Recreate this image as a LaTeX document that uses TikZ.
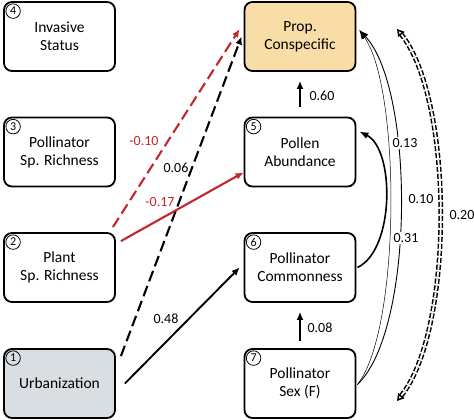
\documentclass[tikz,border=0pt]{standalone}
\usepackage{fontspec}
\setmainfont{Carlito}
\usetikzlibrary{arrows.meta,calc}
\definecolor{myred}{HTML}{C1272D}
\definecolor{propfill}{HTML}{F9DDA6}
\definecolor{urbfill}{HTML}{D9DEE3}
\tikzset{
  box/.style={draw, line width=1.8pt, rounded corners=8pt, minimum width=111pt, minimum height=69pt, align=center, font=\fontsize{15.5}{18}\selectfont, inner sep=0pt},
  num/.style={draw, circle, line width=0.8pt, minimum size=14.5pt, inner sep=0pt, font=\fontsize{12}{12}\selectfont},
  lbl/.style={font=\fontsize{14}{16}\selectfont, inner sep=1pt},
  arr/.style={-{Latex[length=8pt,width=7pt]}, line width=2.1pt},
  dsh/.style={dash pattern=on 11pt off 5pt},
  thinarr/.style={-{Latex[length=9pt,width=7pt]}},
}
\begin{document}
\begin{tikzpicture}[x=1pt,y=-1pt]
\useasboundingbox (0,0) rectangle (474,420);
% boxes
\node[box] (b4) at (59.5,36.5) {Invasive\\Status};
\node[box] (b3) at (59.5,152) {Pollinator\\Sp. Richness};
\node[box] (b2) at (59.5,267.5) {Plant\\Sp. Richness};
\node[box, fill=urbfill] (b1) at (59.5,383.5) {Urbanization};
\node[box, fill=propfill] (pc) at (300,36.5) {Prop.\\Conspecific};
\node[box] (b5) at (300,152) {Pollen\\Abundance};
\node[box] (b6) at (300,267.5) {Pollinator\\Commonness};
\node[box] (b7) at (300,383.5) {Pollinator\\Sex (F)};
% numbers
\node[num] (n4) at ($(b4.north west)+(10,10)$) {4};
\node[num] (n3) at ($(b3.north west)+(10,10)$) {3};
\node[num] (n2) at ($(b2.north west)+(10,10)$) {2};
\node[num] (n1) at ($(b1.north west)+(10,10)$) {1};
\node[num] (n5) at ($(b5.north west)+(10,10)$) {5};
\node[num] (n6) at ($(b6.north west)+(10,10)$) {6};
\node[num] (n7) at ($(b7.north west)+(10,10)$) {7};
% straight arrows
\draw[arr, dsh, myred] ([shift={(-3,-5)}]b2.north east) -- ([shift={(-4,28)}]pc.north west);
\draw[arr, dsh] ([shift={(5,8)}]b1.north east) -- ([shift={(-2,0)}]pc.west);
\draw[arr, myred] ([shift={(5,9)}]b2.north east) -- ([shift={(0,-15)}]b5.south west);
\draw[arr, line width=1.9pt] ([shift={(9,0)}]b1.east) -- ([shift={(-4,0)}]b6.west);
\draw[arr, line width=2.8pt] ([shift={(0,-9.5)}]b5.north) -- ([shift={(0,9)}]pc.south);
\draw[arr, line width=2.4pt] ([shift={(0,-7)}]b7.north) -- ([shift={(0,9)}]b6.south);
% straight labels
\node[lbl, text=myred] (l10) at (144,141) {-0.10};
\node[lbl] (l06) at (176,168) {0.06};
\node[lbl, text=myred] (l17) at (160,202) {-0.17};
\node[lbl] (l48) at (166,319) {0.48};
\node[lbl] (l60) at (322,96) {0.60};
\node[lbl] (l08) at (320,328) {0.08};
% curved arrows
\draw[thinarr, line width=1.6pt] ([shift={(1,0)}]b6.east) .. controls +(37.5,-17.5) and +(35.5,17.5) .. ([shift={(3,15)}]b5.north east);
\draw[thinarr, line width=0.5pt] ([shift={(1,1)}]b7.east) .. controls +(43.5,-54.5) and +(41.5,59) .. ([shift={(3,29)}]pc.north east);
\draw[thinarr, line width=0.9pt] ([shift={(1,1)}]b7.east) .. controls +(57.5,-54.5) and +(55.5,59) .. ([shift={(3,29)}]pc.north east);
\node[lbl, fill=white] (l13) at (405,143) {0.13};
\node[lbl, fill=white] (l31) at (406,238) {0.31};
\node[lbl] (l10b) at (421,199) {0.10};
% dashed hollow arrow
\coordinate (dA) at (397,401);
\coordinate (dB) at (397,29);
\draw[double, double distance=1.8pt, line width=1.5pt, dash pattern=on 5pt off 2pt,
  {Triangle[open,length=7pt,width=8pt]}-{Triangle[open,length=7pt,width=8pt]}]
  (dA) .. controls (454,330) and (454,100) .. (dB);
\node[lbl] (l20) at (462,215) {0.20};
\end{tikzpicture}
\end{document}
